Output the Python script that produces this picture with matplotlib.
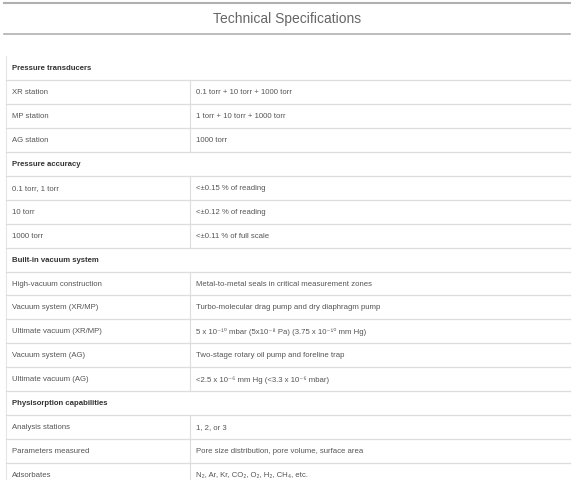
import matplotlib
matplotlib.use("Agg")
import matplotlib.pyplot as plt

# Table content: (label, value); value None marks a section header
labels = [
    "Pressure transducers", "XR station", "MP station", "AG station",
    "Pressure accuracy", "0.1 torr, 1 torr", "10 torr", "1000 torr",
    "Built-in vacuum system", "High-vacuum construction", "Vacuum system (XR/MP)",
    "Ultimate vacuum (XR/MP)", "Vacuum system (AG)", "Ultimate vacuum (AG)",
    "Physisorption capabilities", "Analysis stations", "Parameters measured", "Adsorbates",
]
values = [
    None, "0.1 torr + 10 torr + 1000 torr", "1 torr + 10 torr + 1000 torr", "1000 torr",
    None, "<±0.15 % of reading", "<±0.12 % of reading", "<±0.11 % of full scale",
    None, "Metal-to-metal seals in critical measurement zones",
    "Turbo-molecular drag pump and dry diaphragm pump",
    "5 x 10⁻¹⁰ mbar (5x10⁻⁸ Pa) (3.75 x 10⁻¹⁰ mm Hg)",
    "Two-stage rotary oil pump and foreline trap",
    "<2.5 x 10⁻⁶ mm Hg (<3.3 x 10⁻⁶ mbar)",
    None, "1, 2, or 3", "Pore size distribution, pore volume, surface area",
    "N₂, Ar, Kr, CO₂, O₂, H₂, CH₄, etc.",
]
title = "Technical Specifications"

W, H = 574, 480
plt.rcParams["font.family"] = ["Liberation Sans", "DejaVu Sans"]
fig = plt.figure(figsize=(W / 100, H / 100), dpi=100)
ax = fig.add_axes([0, 0, 1, 1])
ax.set_xlim(0, W)
ax.set_ylim(H, 0)
ax.axis("off")

line_c = "#dddddd"
text_c = "#555555"

# title band
ax.plot([4, 570], [3, 3], color="#b0b0b0", lw=1.5)
ax.plot([4, 570], [34, 34], color="#b0b0b0", lw=1.2)
ax.text(287, 19, title, ha="center", va="center", fontsize=10, color="#666666")

# table
top, row_h = 56, 23.95
x0, xdiv, x1 = 6, 190, 570
ax.plot([x0, x0], [top, H], color="#e6e6e6", lw=0.8)
for i, (lab, val) in enumerate(zip(labels, values)):
    y = top + i * row_h
    yc = y + row_h / 2 + 0.5
    if val is None:
        ax.text(x0 + 6, yc, lab, va="center", fontsize=5.6, fontweight="bold", color="#333333")
    else:
        ax.plot([xdiv, xdiv], [y, y + row_h], color="#dddddd", lw=0.8)
        ax.text(x0 + 6, yc, lab, va="center", fontsize=5.6, color=text_c)
        ax.text(xdiv + 6, yc, val, va="center", fontsize=5.6, color=text_c)
    ax.plot([x0, x1], [y + row_h, y + row_h], color=line_c, lw=0.9)

fig.savefig("out.png", dpi=100, facecolor="white")
